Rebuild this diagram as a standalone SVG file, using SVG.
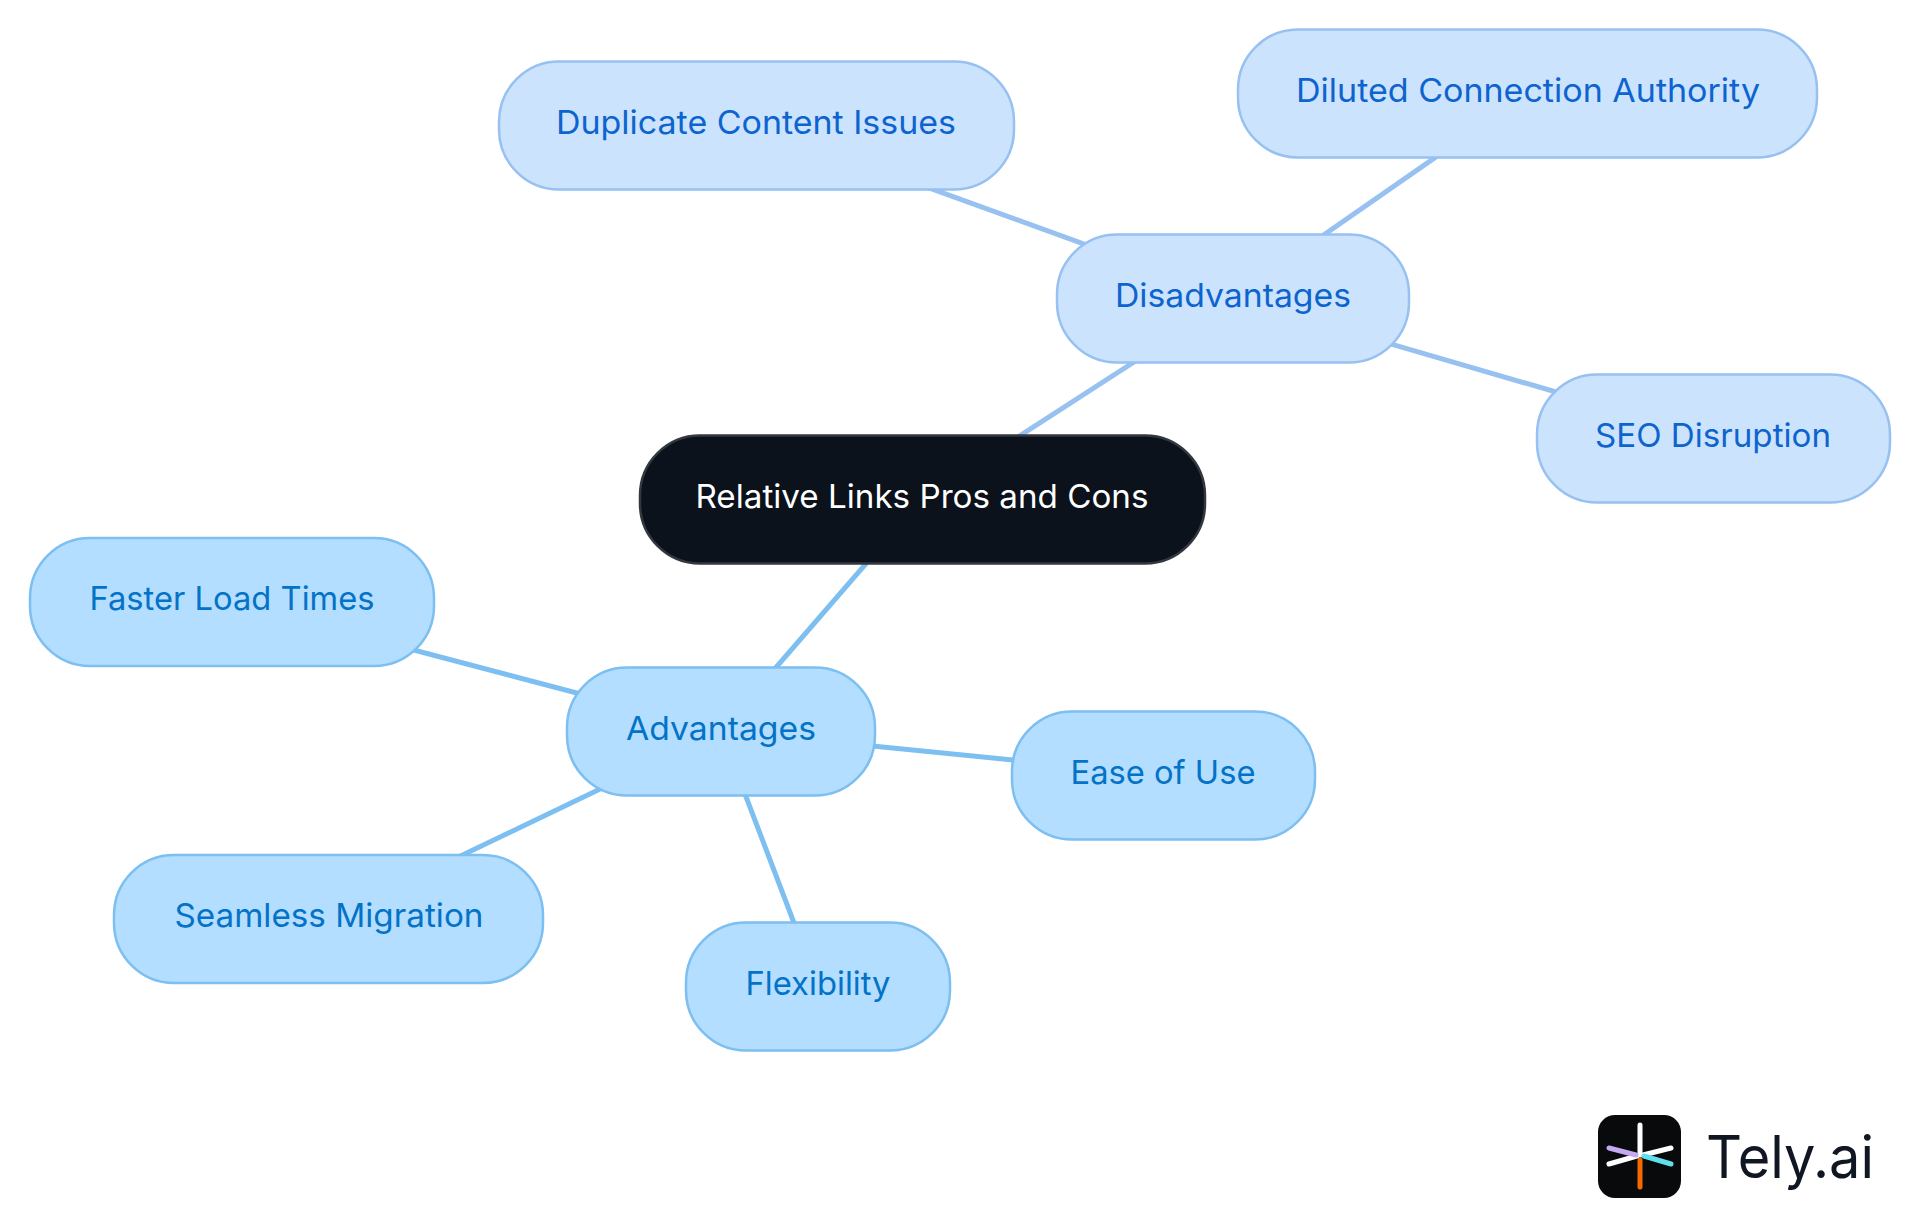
<svg xmlns="http://www.w3.org/2000/svg" width="1920" height="1215" viewBox="0 0 1920 1215">
<style>
rect.n{stroke-width:2.5}
text{font-family:"Inter","Noto Sans",sans-serif;font-size:33px;text-anchor:middle}
.d rect{fill:#cce3fd;stroke:#97c1f0}
.d text{fill:#0d64cf}
.a rect{fill:#b3deff;stroke:#7cbff0}
.a text{fill:#0472c6}
#connectors line{stroke-width:5;fill:none}
.cd{stroke:#97c1f0}
.ca{stroke:#7cbff0}
</style>
<rect width="1920" height="1215" fill="#fff"/>
<g id="connectors">
<line class="cd" x1="922" y1="499" x2="1233" y2="298"/>
<line class="cd" x1="1233" y1="298" x2="755" y2="125"/>
<line class="cd" x1="1233" y1="298" x2="1528" y2="93"/>
<line class="cd" x1="1233" y1="298" x2="1714" y2="438"/>
<line class="ca" x1="922" y1="499" x2="721" y2="731"/>
<line class="ca" x1="721" y1="731" x2="232" y2="602"/>
<line class="ca" x1="721" y1="731" x2="1163" y2="775"/>
<line class="ca" x1="721" y1="731" x2="329" y2="919"/>
<line class="ca" x1="721" y1="731" x2="818" y2="986"/>
</g>
<g id="root"><rect class="n" x="640" y="435.5" width="565" height="128" rx="60" fill="#0b121b" stroke="#33383f"/><text x="922" y="508" fill="#fff" textLength="453" lengthAdjust="spacingAndGlyphs">Relative Links Pros and Cons</text></g>
<g id="disadvantages" class="d"><rect class="n" x="1057" y="234.5" width="352" height="128" rx="60"/><text x="1233" y="307" textLength="236" lengthAdjust="spacingAndGlyphs">Disadvantages</text></g>
<g id="duplicate" class="d"><rect class="n" x="499" y="61.5" width="515" height="128" rx="60"/><text x="756" y="134" textLength="400" lengthAdjust="spacingAndGlyphs">Duplicate Content Issues</text></g>
<g id="diluted" class="d"><rect class="n" x="1238" y="29.5" width="579" height="128" rx="60"/><text x="1528" y="102" textLength="464" lengthAdjust="spacingAndGlyphs">Diluted Connection Authority</text></g>
<g id="seo" class="d"><rect class="n" x="1537" y="374.5" width="353" height="128" rx="60"/><text x="1713" y="447" textLength="236" lengthAdjust="spacingAndGlyphs">SEO Disruption</text></g>
<g id="advantages" class="a"><rect class="n" x="567" y="667.5" width="308" height="128" rx="60"/><text x="721" y="740" textLength="190" lengthAdjust="spacingAndGlyphs">Advantages</text></g>
<g id="faster" class="a"><rect class="n" x="30" y="538" width="404" height="128" rx="60"/><text x="232" y="610" textLength="285" lengthAdjust="spacingAndGlyphs">Faster Load Times</text></g>
<g id="ease" class="a"><rect class="n" x="1012" y="711.5" width="303" height="128" rx="60"/><text x="1163" y="784" textLength="185" lengthAdjust="spacingAndGlyphs">Ease of Use</text></g>
<g id="seamless" class="a"><rect class="n" x="114" y="855" width="429" height="128" rx="60"/><text x="329" y="927" textLength="309" lengthAdjust="spacingAndGlyphs">Seamless Migration</text></g>
<g id="flexibility" class="a"><rect class="n" x="686" y="922.5" width="264" height="128" rx="60"/><text x="818" y="995" textLength="145" lengthAdjust="spacingAndGlyphs">Flexibility</text></g>
<g id="logo">
<rect x="1598" y="1115" width="83" height="83" rx="17" fill="#090a0b"/>
<g stroke-width="5" stroke-linecap="round" fill="none">
<line x1="1640" y1="1125" x2="1640" y2="1155" stroke="#fff"/>
<line x1="1609" y1="1164" x2="1637" y2="1156" stroke="#fff"/>
<line x1="1643" y1="1155" x2="1671" y2="1148" stroke="#fff"/>
<line x1="1609" y1="1148" x2="1636" y2="1155" stroke="#c3aaf2"/>
<line x1="1644" y1="1156" x2="1671" y2="1164" stroke="#5fe0ee"/>
<line x1="1640" y1="1160" x2="1640" y2="1187" stroke="#f56a00"/>
</g>
<text x="1706" y="1178" style="font-size:59px;text-anchor:start;font-weight:400" fill="#101722" textLength="168" lengthAdjust="spacingAndGlyphs">Tely.ai</text>
</g>
</svg>
